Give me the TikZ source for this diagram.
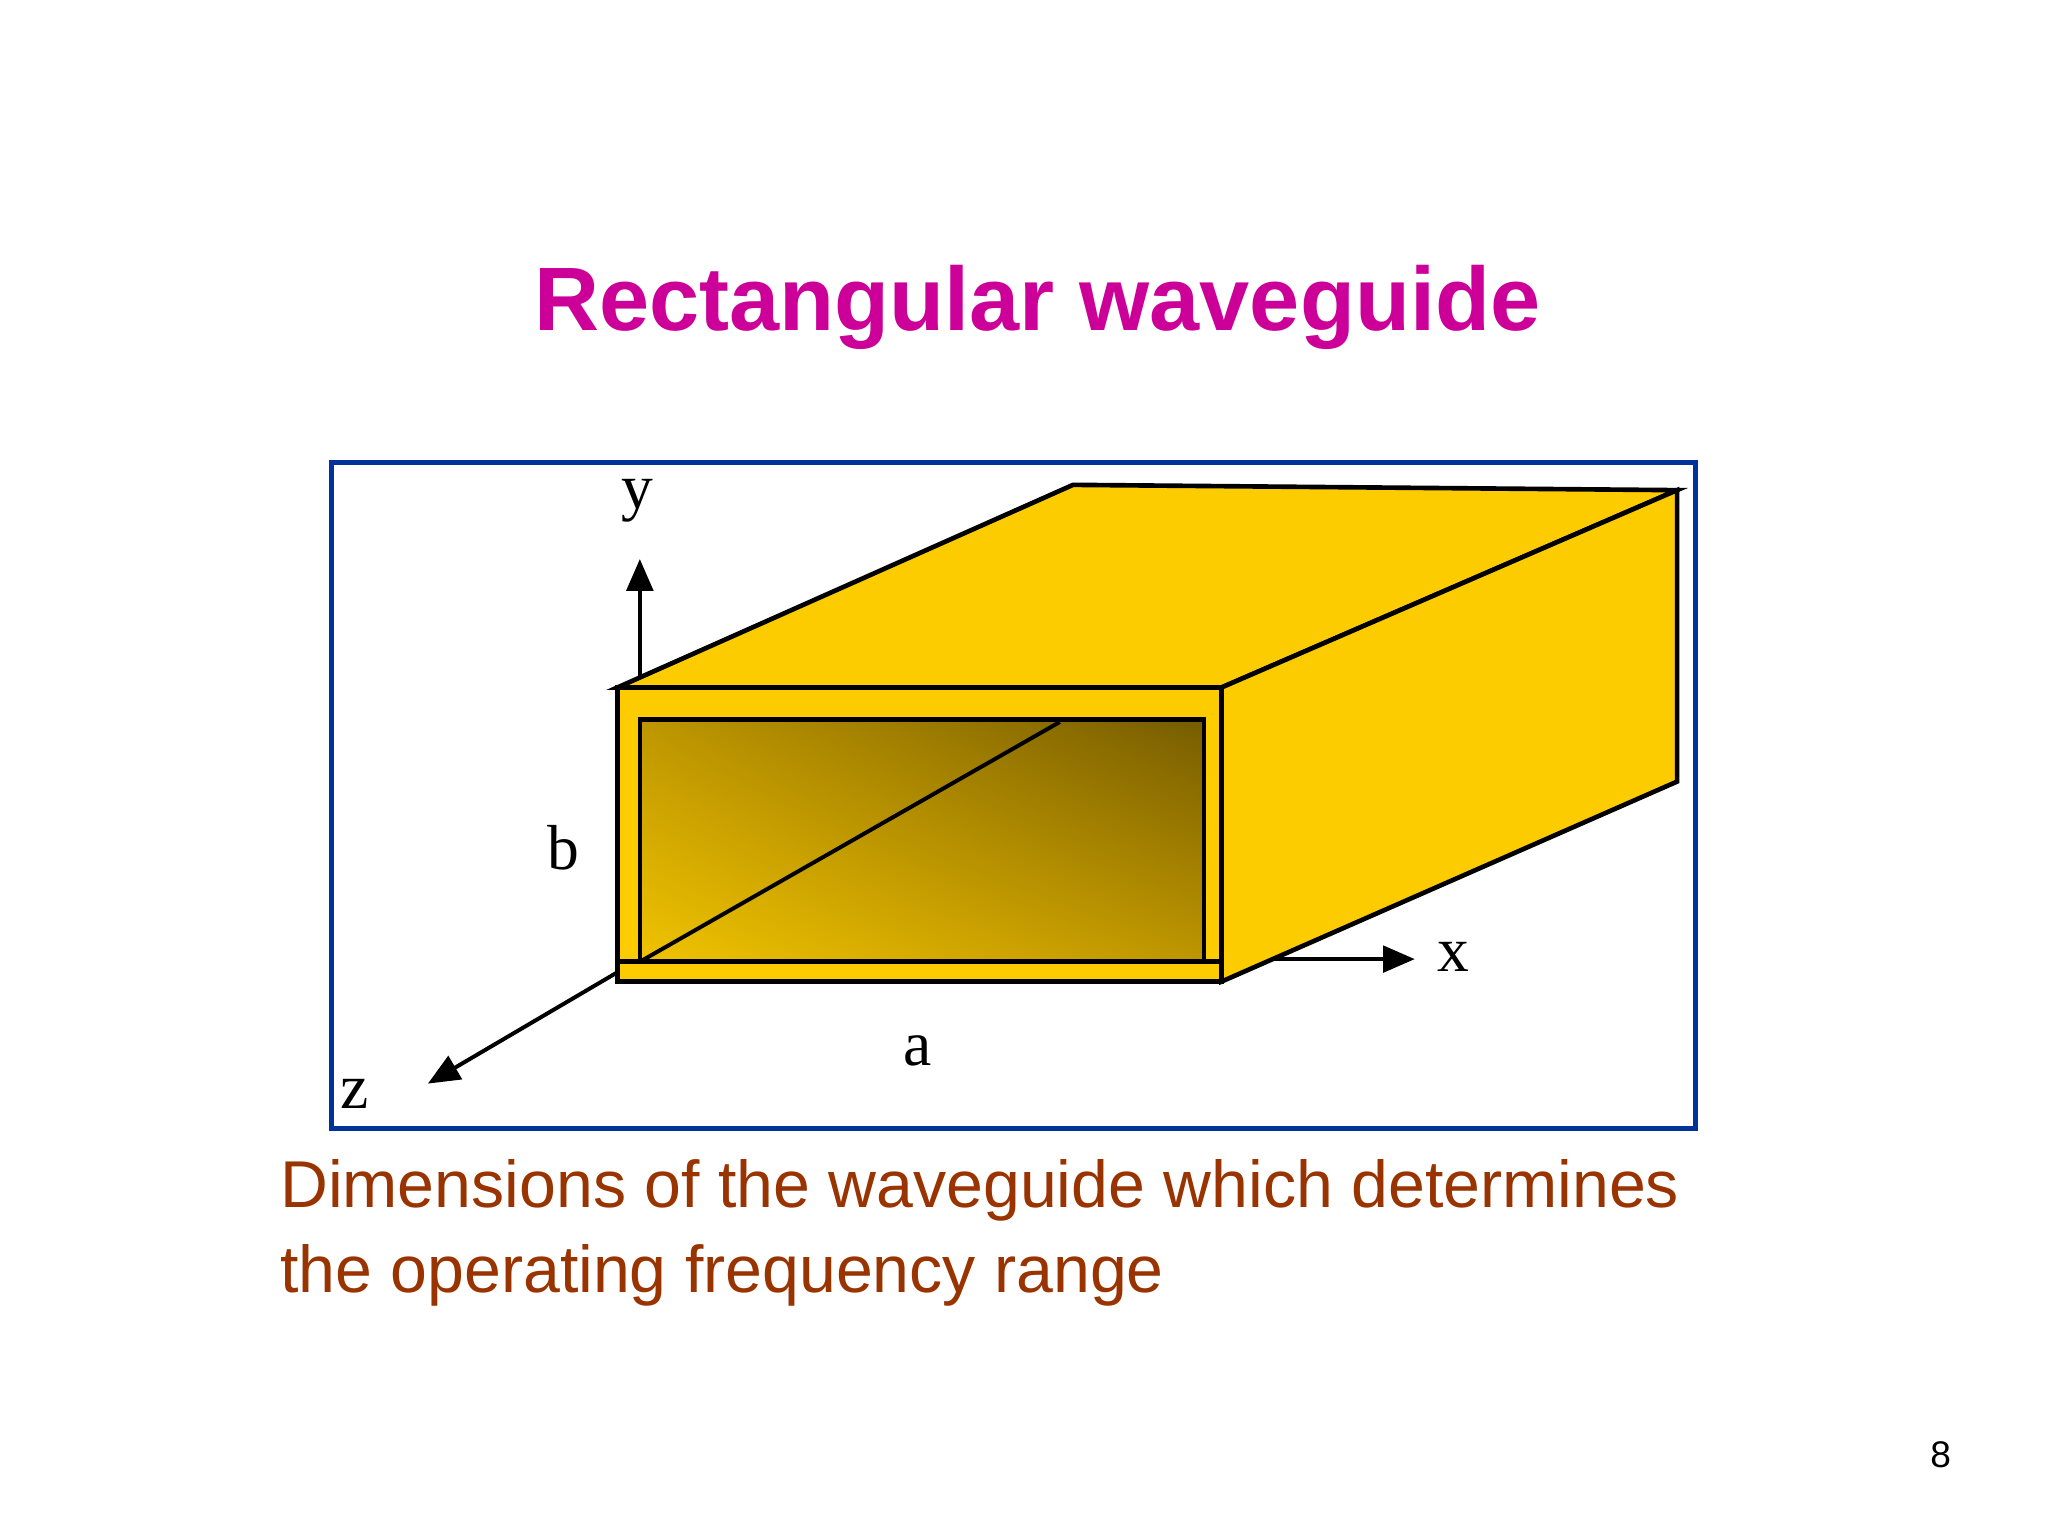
\documentclass[tikz,border=0pt]{standalone}
\usepackage{fontspec}
\setmainfont{Liberation Sans}
\newfontfamily\serifx{Liberation Serif}
\usetikzlibrary{arrows.meta,shadings}
\definecolor{gold}{RGB}{253,204,0}
\definecolor{framec}{RGB}{0,51,153}
\definecolor{titlec}{RGB}{204,0,153}
\definecolor{capc}{RGB}{153,51,0}
\definecolor{darkg}{RGB}{118,92,0}
\definecolor{lightg}{RGB}{240,195,0}
\definecolor{midg}{RGB}{190,150,0}
\tikzset{wall/.style={fill=gold,draw=black,line width=3.5pt,line join=miter},
 axis/.style={line width=3pt,-{Triangle[length=24pt,width=20pt]}},
 lab/.style={font=\serifx\fontsize{48}{48}\selectfont}}
\begin{document}
\begin{tikzpicture}[x=1pt,y=-1pt]
\useasboundingbox (0,0) rectangle (1546,1160);
\node[font=\bfseries\fontsize{68}{68}\selectfont,text=titlec] (title) at (783,232) {Rectangular waveguide};
\draw[framec,line width=4pt] (250,349) rectangle (1280,852);
\coordinate (o) at (483,519);
\coordinate (yt) at (483,422);
\draw[axis] (o) -- (yt);
\coordinate (xo) at (922,724);
\coordinate (xt) at (1068,724);
\draw[axis] (xo) -- (xt);
\coordinate (zo) at (466,734);
\coordinate (zt) at (323,818);
\draw[axis] (zo) -- (zt);
\draw[wall] (466,519) -- (810,366) -- (1266,370) -- (922,519) -- cycle;
\draw[wall] (922,519) -- (1266,370) -- (1266,590) -- (922,741) -- cycle;
\draw[wall] (466,519) rectangle (922,741);
\shade[lower left=lightg,upper right=darkg,upper left=midg,lower right=midg] (483,543) rectangle (909,726);
\draw[line width=3.5pt] (483,543) rectangle (909,726);
\draw[line width=3pt] (483,726) -- (800,545);
\draw[line width=3.5pt] (466,726) -- (922,726);
\node[lab] (ly) at (481,378) {y};
\node[lab] (lx) at (1097,722) {x};
\node[lab] (lz) at (268,826) {z};
\node[lab] (lb) at (425,640) {b};
\node[lab] (la) at (693,793) {a};
\node[anchor=north west,align=left,text=capc,font=\fontsize{50}{64}\selectfont] (cap) at (208,872) {Dimensions of the waveguide which determines\\the operating frequency range};
\node[font=\fontsize{28}{28}\selectfont] (pg) at (1465,1098) {8};
\end{tikzpicture}
\end{document}
